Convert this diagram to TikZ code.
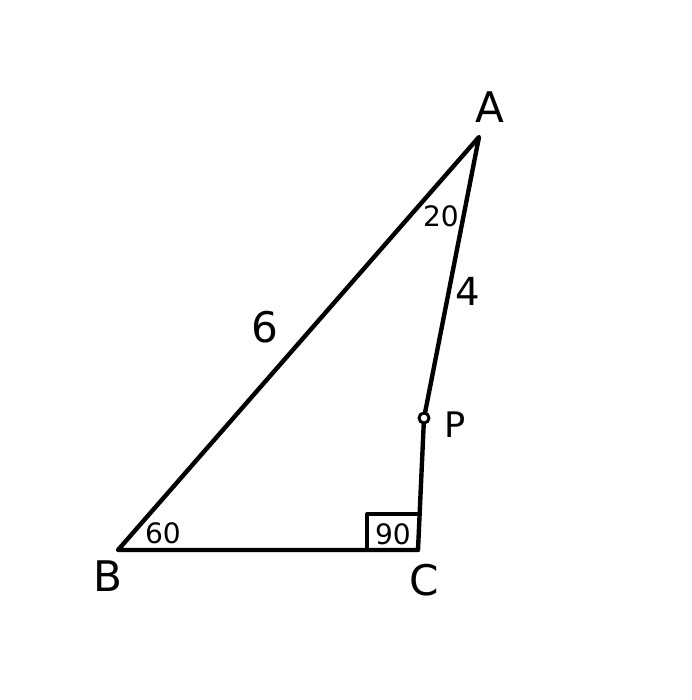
\documentclass[tikz,border=0pt]{standalone}
\usepackage{fontspec}
\setmainfont{DejaVu Sans}

\begin{document}
\begin{tikzpicture}[x=0.02cm, y=-0.02cm, line join=round, line cap=round]
    \tikzset{
        lado/.style={line width=2.5pt},
        vert/.style={font=\fontsize{24}{24}\selectfont},
        medida/.style={font=\fontsize{16}{16}\selectfont, inner sep=1pt}
    }
    \useasboundingbox (0,0) rectangle (692,700);

    % Vértices
    \coordinate (A) at (479,137);
    \coordinate (B) at (118,550);
    \coordinate (C) at (418,550);
    \coordinate (P) at (424,418);

    % Triângulo (lado AC passa por P)
    \draw[lado] (A) -- (B) -- (C) -- (P) -- cycle;

    % Ângulo reto
    \draw[line width=1.9pt] (C) ++(-51,0) coordinate (R1) -- ++(0,-36) coordinate (R2) -- (R2 -| C);

    % Ponto P
    \draw[line width=1.7pt, fill=white] (P) circle (5);

    % Rótulos dos vértices
    \node[vert] (lA) at (490,107) {A};
    \node[vert] (lB) at (108,576) {B};
    \node[vert] (lC) at (424,580) {C};
    \node[vert, font=\fontsize{20}{20}\selectfont] (lP) at (455,425) {P};

    % Medidas
    \node[medida, font=\fontsize{24}{24}\selectfont] (m6) at (265,327) {6};
    \node[medida, font=\fontsize{22}{22}\selectfont] (m4) at (468,291) {4};
    \node[medida] (a20) at (441,216) {20};
    \node[medida] (a60) at (163,533) {60};
    \node[medida] (a90) at (393,534) {90};

\end{tikzpicture}
\end{document}
